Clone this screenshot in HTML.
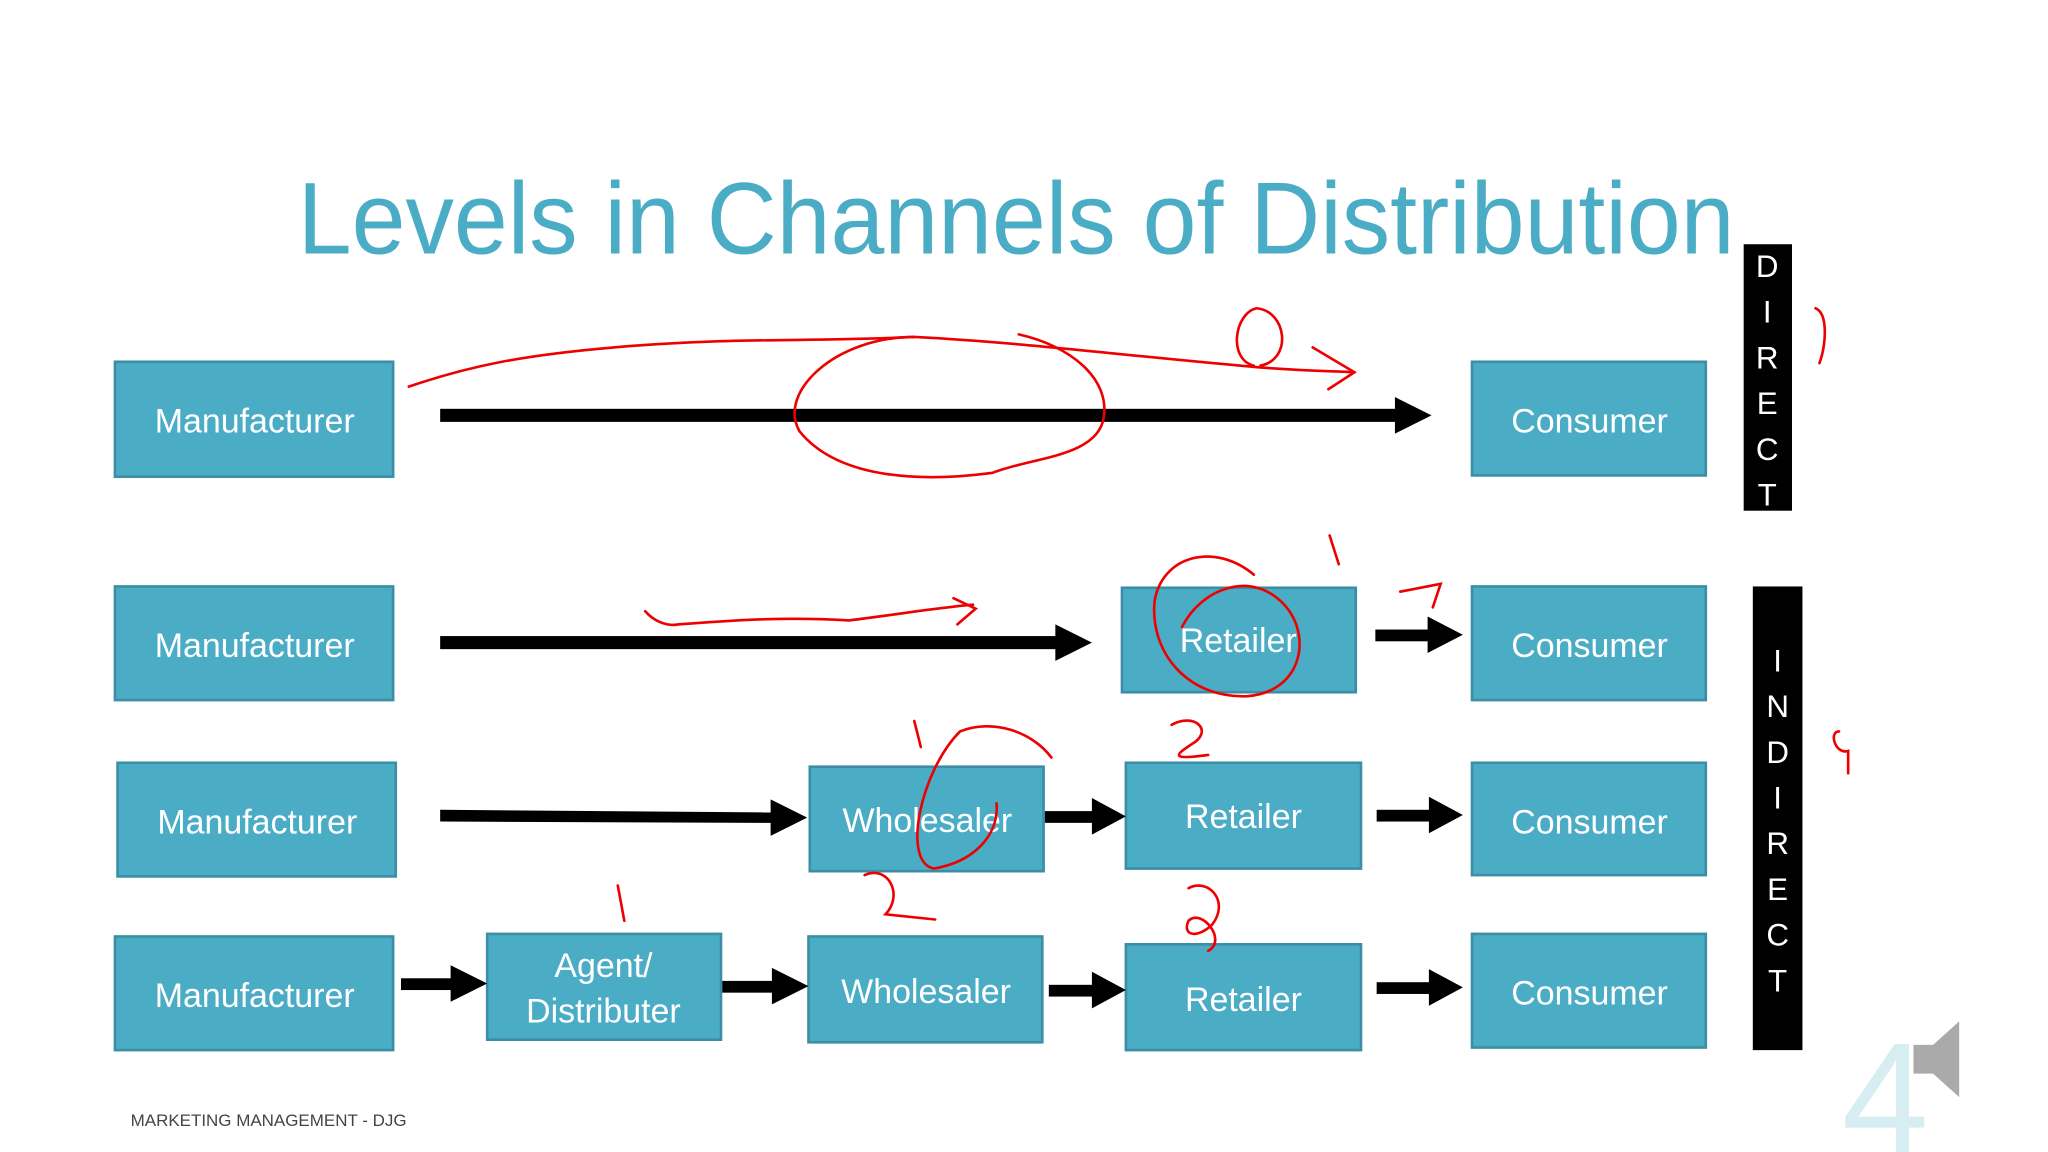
<!DOCTYPE html>
<html><head><style>html,body{margin:0;padding:0;background:#fff;}svg{display:block}</style></head><body>
<svg width="2048" height="1152" viewBox="0 0 1568 882" xmlns="http://www.w3.org/2000/svg" font-family="Liberation Sans, sans-serif">
<rect width="1568" height="882" fill="#fff"/>
<text x="228" y="194" font-size="78" fill="#4bacc6" textLength="1100" lengthAdjust="spacingAndGlyphs">Levels in Channels of Distribution</text>
<g fill="#4bacc6" stroke="#3b8ea4" stroke-width="2">
<rect x="88" y="277" width="213" height="88"/><rect x="1127" y="277" width="179" height="87"/>
<rect x="88" y="449" width="213" height="87"/><rect x="859" y="450" width="179" height="80"/><rect x="1127" y="449" width="179" height="87"/>
<rect x="90" y="584" width="213" height="87"/><rect x="620" y="587" width="179" height="80"/><rect x="862" y="584" width="180" height="81"/><rect x="1127" y="584" width="179" height="86"/>
<rect x="88" y="717" width="213" height="87"/><rect x="373" y="715" width="179" height="81"/><rect x="619" y="717" width="179" height="81"/><rect x="862" y="723" width="180" height="81"/><rect x="1127" y="715" width="179" height="87"/>
</g>
<g fill="#fff" font-size="26" text-anchor="middle">
<text x="195" y="331">Manufacturer</text><text x="1217" y="331">Consumer</text>
<text x="195" y="503">Manufacturer</text><text x="948" y="499">Retailer</text><text x="1217" y="503">Consumer</text>
<text x="197" y="638">Manufacturer</text><text x="710" y="637">Wholesaler</text><text x="952" y="634">Retailer</text><text x="1217" y="638">Consumer</text>
<text x="195" y="771">Manufacturer</text><text x="462" y="748">Agent/</text><text x="462" y="783">Distributer</text><text x="709" y="768">Wholesaler</text><text x="952" y="774">Retailer</text><text x="1217" y="769">Consumer</text>
</g>
<g fill="#000">
<rect x="337" y="313" width="733" height="10"/><polygon points="1068,304 1096,318 1068,332"/>
<rect x="337" y="487" width="473" height="10"/><polygon points="808,478 836,492 808,506"/>
<polygon points="337,620 592,622 592,630 337,629"/><polygon points="590,612 618,626 590,640"/>
<rect x="800" y="621" width="38" height="9"/><polygon points="836,611 862,625 836,639"/>
<rect x="1054" y="620" width="42" height="9"/><polygon points="1094,610 1120,624 1094,638"/>
<rect x="1053" y="482" width="42" height="9"/><polygon points="1093,472 1120,486 1093,500"/>
<rect x="307" y="749" width="40" height="9"/><polygon points="345,739 373,753 345,767"/>
<rect x="553" y="751" width="40" height="9"/><polygon points="591,741 619,755 591,769"/>
<rect x="803" y="754" width="35" height="9"/><polygon points="836,744 862,758 836,772"/>
<rect x="1054" y="752" width="42" height="9"/><polygon points="1094,742 1120,756 1094,770"/>
<rect x="1335" y="187" width="37" height="204"/><rect x="1342" y="449" width="38" height="355"/>
</g>
<g fill="#fff" font-size="24" text-anchor="middle">
<text x="1353" y="212">D</text><text x="1353" y="247">I</text><text x="1353" y="282">R</text><text x="1353" y="317">E</text><text x="1353" y="352">C</text><text x="1353" y="387">T</text>
<text x="1361" y="514">I</text><text x="1361" y="549">N</text><text x="1361" y="584">D</text><text x="1361" y="619">I</text><text x="1361" y="654">R</text><text x="1361" y="689">E</text><text x="1361" y="724">C</text><text x="1361" y="759">T</text>
</g>
<text x="100" y="862" font-size="13" fill="#444">MARKETING MANAGEMENT - DJG</text>
<text x="1410" y="882" font-size="120" fill="#d6eef2">4</text>
<polygon points="1465,800 1480,800 1500,782 1500,840 1480,822 1465,822" fill="#aaa"/>
<g fill="none" stroke="#e00" stroke-width="2" stroke-linecap="round">
<path d="M313,296 C360,280 400,272 470,266 C560,258 620,262 700,258 C780,262 860,272 950,280 C990,284 1020,284 1037,285"/>
<path d="M1005,266 L1037,285 L1017,298"/>
<path d="M960,280 C940,275 945,240 962,236 C985,238 990,275 965,280"/>
<path d="M700,258 C640,258 595,300 612,330 C640,365 700,370 760,362 C790,350 840,350 845,320 C850,290 820,265 780,256"/>
<path d="M1390,236 C1400,240 1398,265 1393,278"/>
<path d="M494,468 C500,475 510,480 520,478 C560,475 600,472 650,475 C690,470 720,465 745,463"/>
<path d="M730,458 L747,466 L733,478"/>
<path d="M960,440 C930,415 890,425 884,460 C880,500 910,535 955,533 C995,530 1005,490 985,465 C960,435 920,450 905,480"/>
<path d="M1018,410 L1025,432"/><path d="M1072,453 L1103,447 L1097,465"/>
<path d="M700,552 L705,572"/><path d="M805,580 C790,560 760,550 735,560 C705,590 690,660 715,665 C745,660 765,640 763,615"/>
<path d="M897,555 C915,545 930,560 912,570 C900,578 895,582 925,578"/>
<path d="M1408,560 C1400,560 1405,578 1415,575 L1415,592"/>
<path d="M473,678 L478,705"/><path d="M662,670 C680,662 692,685 678,700 L716,704"/>
<path d="M910,680 C925,672 942,690 928,708 C915,720 905,715 910,705 C920,695 940,720 925,728"/>
</g>
</svg>
</body></html>
